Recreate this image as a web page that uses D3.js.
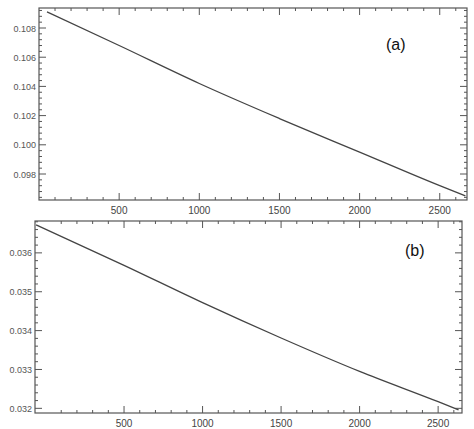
<!DOCTYPE html>
<html><head><meta charset="utf-8">
<script src="https://d3js.org/d3.v7.min.js"></script>
<style>body{margin:0;background:#fff}</style>
</head><body>
<svg id="vis"></svg>
<script>
  // panel (a)
  var xA = [50, 500, 1000, 1500, 2000, 2500, 2660];
  var yA = [0.1091, 0.1068, 0.1042, 0.1018, 0.0995, 0.0972, 0.0965];
  var yTicksA = [0.098, 0.100, 0.102, 0.104, 0.106, 0.108];
  // panel (b)
  var xB = [-60, 500, 1000, 1500, 2000, 2500, 2630];
  var yB = [0.03672, 0.03568, 0.03472, 0.03381, 0.03295, 0.03217, 0.03196];
  var yTicksB = [0.032, 0.033, 0.034, 0.035, 0.036];
  var xTicks = [500, 1000, 1500, 2000, 2500];

  var svg = d3.select('#vis').attr('width', 474).attr('height', 429);

  function panel(box, xdom, ydom, xs, ys, yTicks, yMinor, label, lpos, fmt) {
    var g = svg.append('g');
    var x = d3.scaleLinear().domain(xdom).range([box.x0, box.x1]);
    var y = d3.scaleLinear().domain(ydom).range([box.y1, box.y0]);
    g.append('rect').attr('x', box.x0).attr('y', box.y0)
      .attr('width', box.x1 - box.x0).attr('height', box.y1 - box.y0)
      .attr('fill', 'none').attr('stroke', '#555').attr('stroke-width', 1.2);

    var minorX = d3.range(100, xdom[1], 100);
    var minorY = d3.range(Math.ceil(ydom[0] / yMinor) * yMinor, ydom[1], yMinor);
    // ticks inward on all four sides
    minorX.forEach(function(v) {
      var big = v % 500 === 0, L = big ? 7 : 3;
      g.append('line').attr('x1', x(v)).attr('x2', x(v)).attr('y1', box.y1).attr('y2', box.y1 - L).attr('stroke', '#555');
      g.append('line').attr('x1', x(v)).attr('x2', x(v)).attr('y1', box.y0).attr('y2', box.y0 + L).attr('stroke', '#555');
    });
    minorY.forEach(function(v) {
      var big = yTicks.some(function(t) { return Math.abs(t - v) < yMinor / 10; }), L = big ? 7 : 3;
      g.append('line').attr('y1', y(v)).attr('y2', y(v)).attr('x1', box.x0).attr('x2', box.x0 + L).attr('stroke', '#555');
      g.append('line').attr('y1', y(v)).attr('y2', y(v)).attr('x1', box.x1).attr('x2', box.x1 - L).attr('stroke', '#555');
    });
    xTicks.forEach(function(v) {
      g.append('text').attr('x', x(v)).attr('y', box.y1 + 14).attr('text-anchor', 'middle')
        .attr('font-family', 'Liberation Sans').attr('font-size', 10).attr('fill', '#444').text(v);
    });
    yTicks.forEach(function(v) {
      g.append('text').attr('x', box.x0 - 3).attr('y', y(v) + 3.5).attr('text-anchor', 'end')
        .attr('font-family', 'Liberation Sans').attr('font-size', 9).attr('fill', '#555').text(d3.format(fmt)(v));
    });
    var pts = xs.map(function(d, i) { return [x(d), y(ys[i])]; });
    g.append('path').attr('d', d3.line().curve(d3.curveMonotoneX)(pts))
      .attr('fill', 'none').attr('stroke', '#444').attr('stroke-width', 1.3);
    g.append('text').attr('x', lpos[0]).attr('y', lpos[1]).attr('font-family', 'Liberation Sans')
      .attr('font-size', 16).attr('fill', '#111').text(label);
  }

  panel({x0: 39, x1: 467, y0: 8, y1: 200}, [0, 2670], [0.09622, 0.10937], xA, yA, yTicksA, 0.0004, '(a)', [386, 50], '.3f');
  panel({x0: 35, x1: 462, y0: 221, y1: 413}, [-67, 2652], [0.03188, 0.03682], xB, yB, yTicksB, 0.0002, '(b)', [405, 256], '.3f');
</script>
</body></html>
